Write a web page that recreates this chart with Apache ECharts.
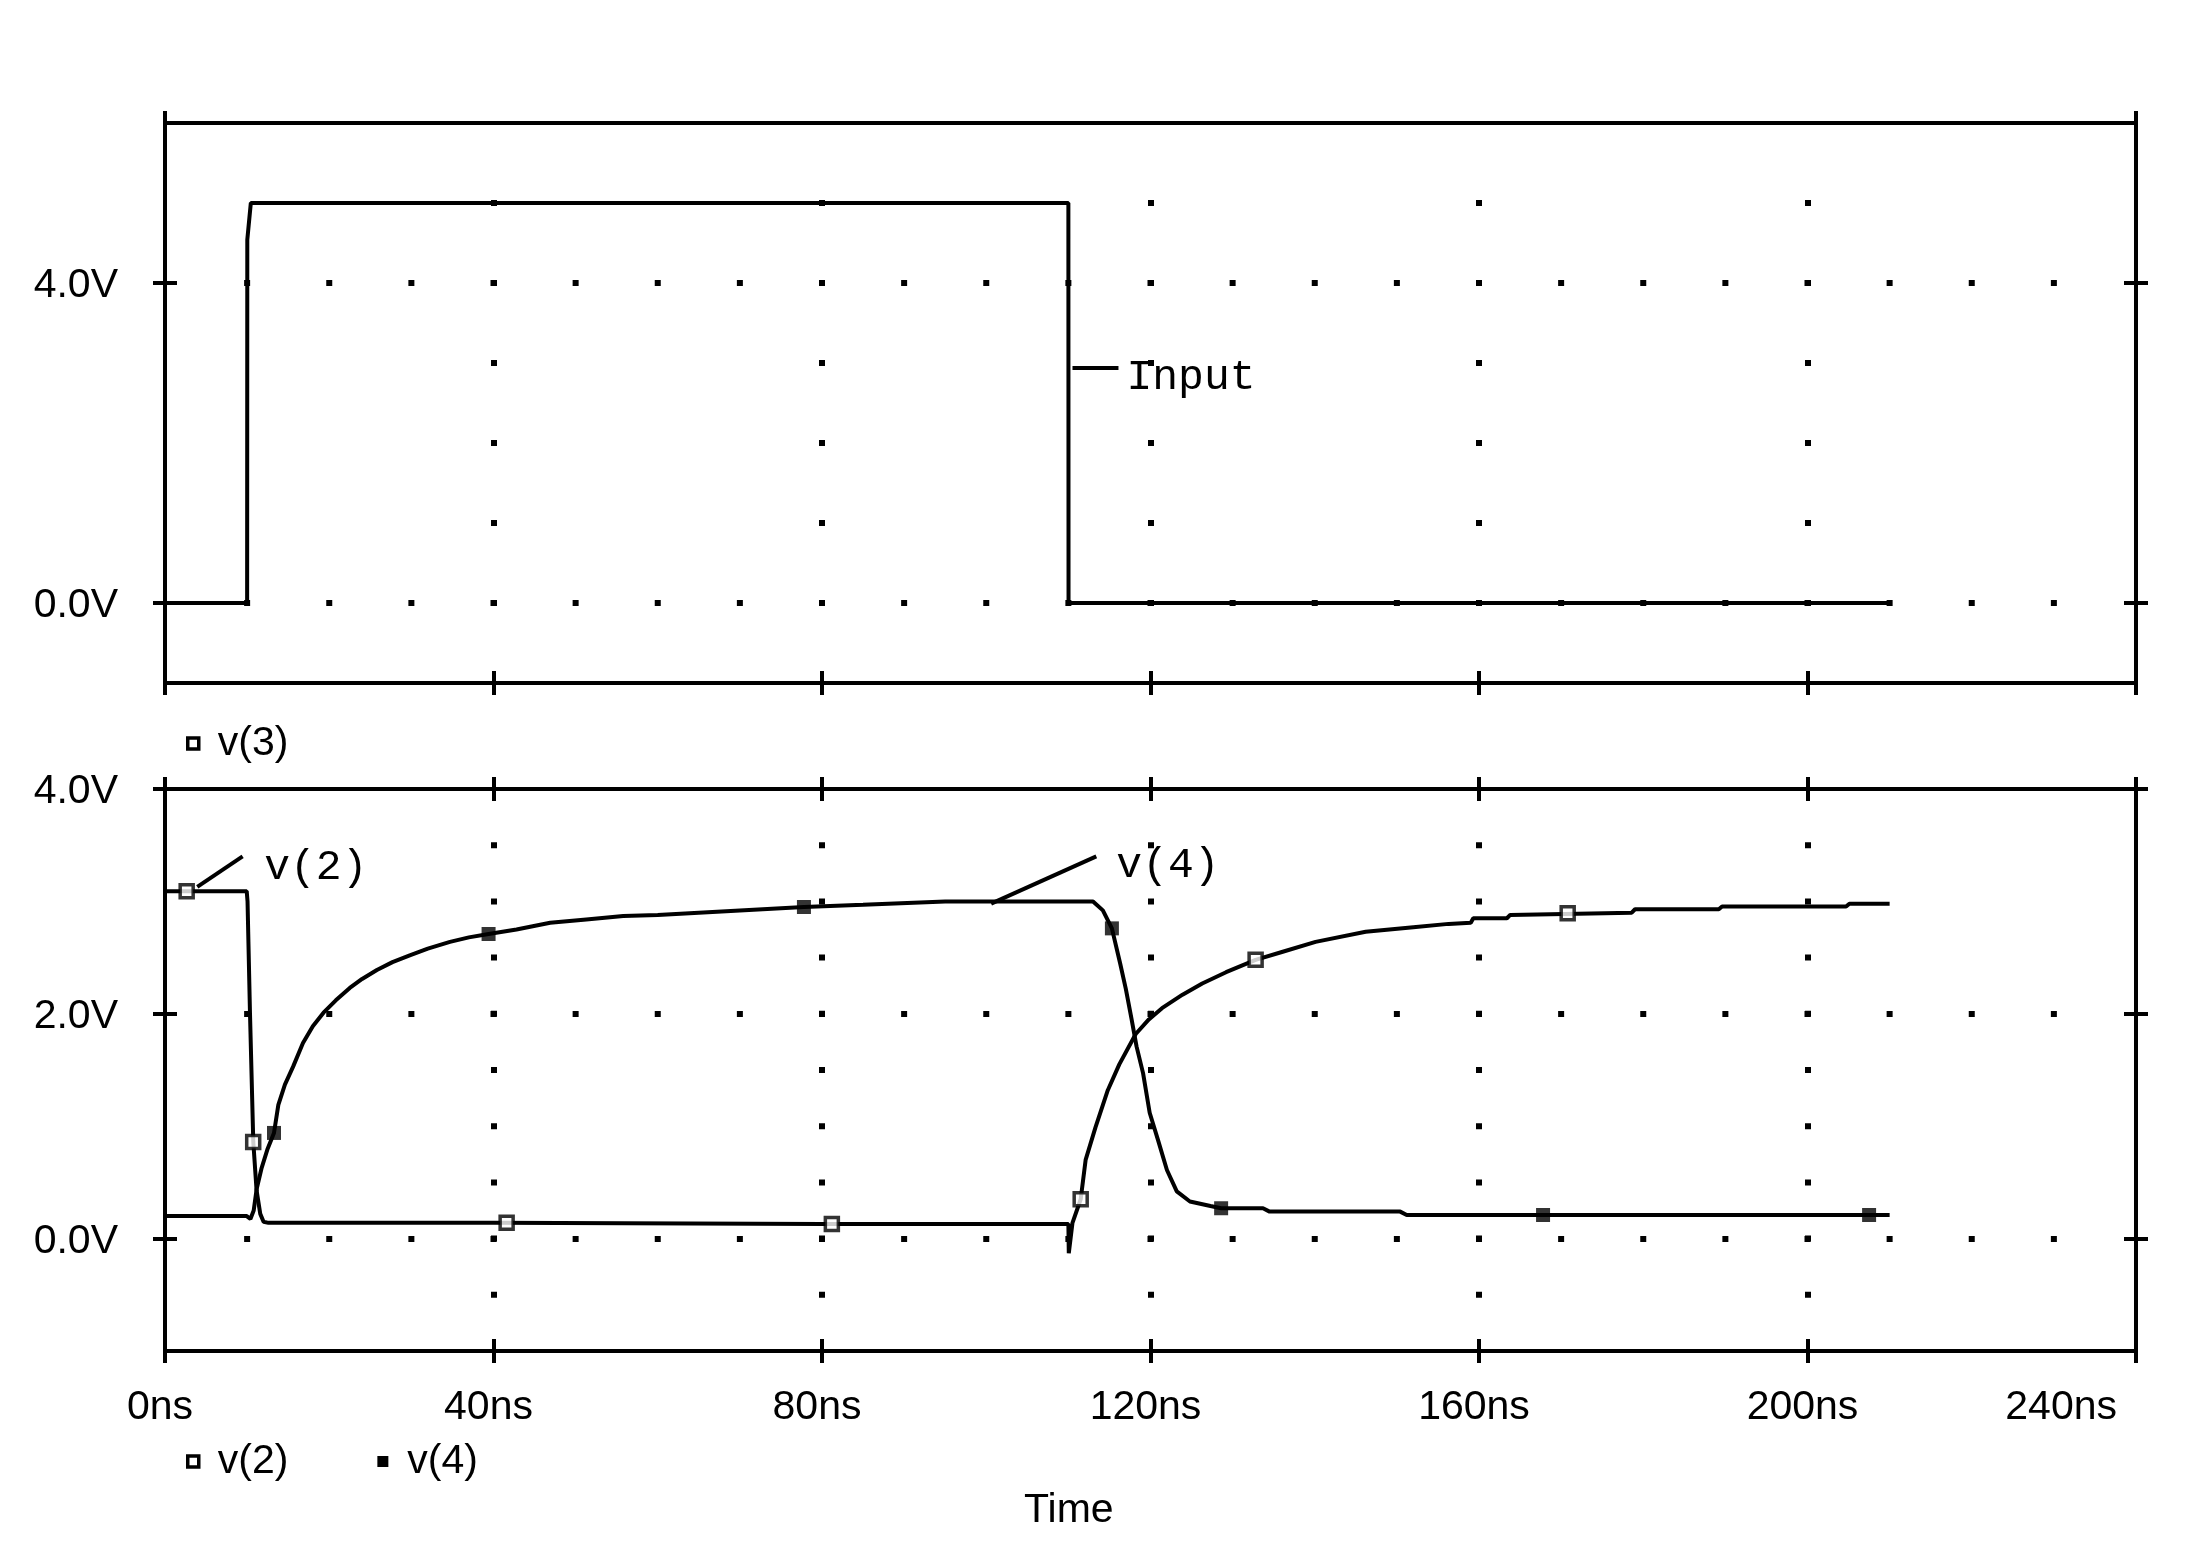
<!DOCTYPE html>
<html>
<head>
<meta charset="utf-8">
<script src="https://cdn.jsdelivr.net/npm/echarts@6/dist/echarts.min.js"></script>
<style>
html, body { margin: 0; padding: 0; background: #fff; }
#chart { width: 2186px; height: 1546px; }
</style>
</head>
<body>
<div id="chart"></div>
<script>
// ---- data (time in ns, voltage in V) ----
const inputTime = [0, 10, 10.02, 10.45, 110, 110.02, 210]
const inputVolt = [0, 0, 4.54, 5, 5, 0, 0]

const v2Time = [0, 9.95, 10.05, 10.35, 10.75, 11.15, 11.6, 12.0, 12.6, 40, 80, 110, 110.05, 110.5, 111.5, 112.1,
  113.3, 114.8, 116.2, 118.2, 119.8, 121.4, 123.9, 126.3, 129.2, 132.8, 136.0, 140.1, 146.2, 152, 156.3, 159.0,
  159.3, 163.4, 163.8, 178.6, 179.0, 189.2, 189.6, 204.7, 205.1, 210]
const v2Volt = [3.09, 3.09, 3.0, 2.0, 0.86, 0.43, 0.22, 0.15, 0.14, 0.14, 0.13, 0.13, -0.13, 0.14, 0.35, 0.70,
  0.99, 1.32, 1.55, 1.82, 1.95, 2.05, 2.17, 2.27, 2.37, 2.48, 2.55, 2.64, 2.73, 2.77, 2.80, 2.81,
  2.85, 2.85, 2.88, 2.90, 2.93, 2.93, 2.955, 2.955, 2.98, 2.98]

const v4Time = [0, 9.95, 10.4, 10.8, 11.16, 11.77, 12.5, 13.27, 13.8, 14.6, 15.6, 16.8, 18.0, 19.3, 20.8, 22.5,
  24.0, 25.8, 27.7, 29.8, 32.0, 34.7, 37.0, 39.4, 42.8, 46.9, 51.3, 55.8, 60, 65, 70, 77.8, 85, 95, 113.0,
  114.2, 115.3, 116.3, 117.0, 117.7, 118.3, 119.1, 119.9, 120.9, 122.0, 123.2, 124.8, 127.3, 128.6, 133.7,
  134.5, 150.4, 151.2, 210]
const v4Volt = [0.20, 0.20, 0.175, 0.25, 0.44, 0.63, 0.80, 0.94, 1.19, 1.37, 1.53, 1.74, 1.89, 2.01, 2.12, 2.23,
  2.31, 2.39, 2.46, 2.52, 2.58, 2.64, 2.68, 2.71, 2.75, 2.81, 2.84, 2.87, 2.88, 2.90, 2.92, 2.95, 2.97, 3.0, 3.0,
  2.92, 2.76, 2.45, 2.22, 1.95, 1.71, 1.47, 1.12, 0.88, 0.61, 0.42, 0.33, 0.29, 0.27, 0.27,
  0.24, 0.24, 0.21, 0.21]

// trace markers (every few samples, like the simulator draws them)
const v2MarkTime = [2.64, 10.74, 41.6, 81.2, 111.5, 132.8, 170.8]
const v2MarkVolt = [3.09, 0.86, 0.14, 0.13, 0.35, 2.48, 2.895]
const v4MarkTime = [13.27, 39.4, 77.8, 115.3, 128.6, 167.8, 207.5]
const v4MarkVolt = [0.94, 2.71, 2.95, 2.76, 0.27, 0.21, 0.21]

// axis ticks
const timeMin = 0, timeMax = 240, timeStep = 40
const inputTicks = [0, 4]
const outTicks = [0, 2, 4]
const outDotRows = [0, 2]

// text labels with their leader lines [from, to]
const inputLeader = [[110.5, 2.94], [116.1, 2.94]]
const v2Leader = [[3.93, 3.13], [9.45, 3.40]]
const v4Leader = [[100.6, 2.98], [113.4, 3.40]]

const zip = (xs, ys) => xs.map((x, i) => [x, ys[i]])

// ---- layout ----
const plotLeft = 165, plotWidth = 1971
const topA = 123, heightA = 560
const topB = 789, heightB = 562
const nsDot = plotWidth / 24      // a dot every 10ns
const dotA = heightA / 7          // every 1V in the top plot
const dotB = heightB / 10         // every 0.5V in the bottom plot

const ink = '#000'
const sans = 'Liberation Sans'
const lw = 4
const blackLine = { color: ink, width: lw }

// dotted grid: skip the dot that would sit on the frame at the start
const dotDash = (step, count) => {
  const d = [0, step - 3]
  for (let i = 0; i < count; i++) d.push(6, step - 6)
  d[d.length - 1] = 5000
  return d
}
const dots = (step, count) => ({ color: ink, width: 6, cap: 'butt', type: dotDash(step, count) })

const lineOn = { show: true, onZero: false, lineStyle: blackLine }
const lineOff = { show: false, onZero: false }
const tickOut = (values) => ({ show: true, length: 12, lineStyle: blackLine, customValues: values })
const tickIn = (values) => ({ show: true, inside: true, length: 12, lineStyle: blackLine, customValues: values })
const noLabel = { show: false }
const noSplit = { show: false }

const timeAxis = (grid, position, axisLine, axisTick, extra) => Object.assign({
  type: 'value', gridIndex: grid, position, min: timeMin, max: timeMax, interval: timeStep,
  axisLine, axisTick, axisLabel: noLabel, splitLine: noSplit
}, extra || {})

const voltAxis = (grid, position, min, max, axisLine, axisTick, extra) => Object.assign({
  type: 'value', gridIndex: grid, position, min, max, interval: 1,
  axisLine, axisTick, axisLabel: noLabel, splitLine: noSplit
}, extra || {})

const voltLabel = (values) => ({
  show: true, customValues: values, margin: 47,
  verticalAlign: 'top', lineHeight: 6,
  fontFamily: sans, fontSize: 41, color: ink,
  formatter: (v) => v.toFixed(1) + 'V'
})

// the empty first line pushes the text below the anchor by lineHeight / 2
const leaderLine = (from, to, text, distance, lineHeight) => ({
  silent: true,
  animation: false,
  symbol: ['none', 'none'],
  lineStyle: { color: ink, width: lw, type: 'solid' },
  label: {
    show: true, position: 'end', formatter: '\n' + text, distance, lineHeight,
    fontFamily: 'Liberation Mono', fontSize: 43, color: ink
  },
  emphasis: { disabled: true },
  data: [[{ coord: from }, { coord: to }]]
})

const chart = echarts.init(document.getElementById('chart'))

chart.setOption({
  animation: false,
  backgroundColor: '#fff',
  title: {
    text: 'Time', left: 1024, top: 1490, padding: 0,
    textStyle: { fontFamily: sans, fontSize: 41, fontWeight: 'normal', color: ink }
  },
  grid: [
    { left: plotLeft, top: topA, width: plotWidth, height: heightA, outerBoundsMode: 'none' },
    { left: plotLeft, top: topB, width: plotWidth, height: heightB, outerBoundsMode: 'none' }
  ],
  legend: [
    {
      left: 186, top: 723, padding: 0, itemWidth: 11, itemHeight: 11, selectedMode: false,
      textStyle: { fontFamily: sans, fontSize: 41, color: ink, padding: [0, 0, 0, 14] },
      data: [{ name: 'v(3)', icon: 'rect', itemStyle: { color: '#fff', borderColor: ink, borderWidth: 3.5 } }]
    },
    {
      left: 186, top: 1441, padding: 0, itemWidth: 11, itemHeight: 11, itemGap: 89, selectedMode: false,
      textStyle: { fontFamily: sans, fontSize: 41, color: ink, padding: [0, 0, 0, 14] },
      data: [
        { name: 'v(2)', icon: 'rect', itemStyle: { color: '#fff', borderColor: ink, borderWidth: 3.5 } },
        { name: 'v(4)', icon: 'rect', itemWidth: 12, itemHeight: 12, itemStyle: { color: ink, borderWidth: 0 } }
      ]
    }
  ],
  xAxis: [
    // top plot
    timeAxis(0, 'bottom', lineOn, tickOut(), {
      splitLine: { show: true, showMinLine: false, showMaxLine: false, lineStyle: dots(dotA, 6) }
    }),
    timeAxis(0, 'bottom', lineOff, tickIn()),
    timeAxis(0, 'top', lineOn, tickOut([timeMin, timeMax])),
    // bottom plot
    timeAxis(1, 'bottom', lineOn, tickOut(), {
      splitLine: { show: true, showMinLine: false, showMaxLine: false, lineStyle: dots(dotB, 9) },
      axisLabel: {
        show: true, margin: 36, padding: [0, 10, 0, 0], showMinLabel: true, showMaxLabel: true,
        alignMaxLabel: 'right',
        fontFamily: sans, fontSize: 41, color: ink,
        formatter: (v) => v === timeMax ? '{last|' + v + 'ns}' : v + 'ns',
        rich: { last: { fontFamily: sans, fontSize: 41, color: ink, padding: [0, 9, 0, 0] } }
      }
    }),
    timeAxis(1, 'bottom', lineOff, tickIn()),
    timeAxis(1, 'top', lineOn, tickOut()),
    timeAxis(1, 'top', lineOff, tickIn())
  ],
  yAxis: [
    // top plot
    voltAxis(0, 'left', -1, 6, lineOn, tickOut(inputTicks), { axisLabel: voltLabel(inputTicks) }),
    voltAxis(0, 'left', -1, 6, lineOff, tickIn(inputTicks), {
      splitLine: { show: true, lineStyle: dots(nsDot, 23) }
    }),
    voltAxis(0, 'right', -1, 6, lineOn, tickOut(inputTicks)),
    voltAxis(0, 'right', -1, 6, lineOff, tickIn(inputTicks)),
    // bottom plot
    voltAxis(1, 'left', -1, 4, lineOn, tickOut(outTicks), { axisLabel: voltLabel(outTicks) }),
    voltAxis(1, 'left', -1, 4, lineOff, tickIn(outDotRows), {
      splitLine: { show: true, lineStyle: dots(nsDot, 23) }
    }),
    voltAxis(1, 'right', -1, 4, lineOn, tickOut(outTicks)),
    voltAxis(1, 'right', -1, 4, lineOff, tickIn(outDotRows))
  ],
  series: [
    {
      name: 'Input', type: 'line', xAxisIndex: 0, yAxisIndex: 0,
      symbol: 'none', silent: true, z: 3,
      lineStyle: { color: ink, width: lw },
      data: zip(inputTime, inputVolt),
      markLine: leaderLine(inputLeader[0], inputLeader[1], 'Input', 8, 20)
    },
    {
      name: 'v(3)', type: 'line', xAxisIndex: 3, yAxisIndex: 4,
      symbol: 'none', itemStyle: { color: ink }, data: []
    },
    {
      name: 'v(2)', type: 'line', xAxisIndex: 3, yAxisIndex: 4,
      symbol: 'none', silent: true, z: 3,
      lineStyle: { color: ink, width: lw }, itemStyle: { color: ink },
      data: zip(v2Time, v2Volt),
      markLine: leaderLine(v2Leader[0], v2Leader[1], 'v(2)', 26, 51)
    },
    {
      name: 'v(4)', type: 'line', xAxisIndex: 3, yAxisIndex: 4,
      symbol: 'none', silent: true, z: 3,
      lineStyle: { color: ink, width: lw }, itemStyle: { color: ink },
      data: zip(v4Time, v4Volt),
      markLine: leaderLine(v4Leader[0], v4Leader[1], 'v(4)', 22, 36)
    },
    {
      name: 'v(2)', type: 'scatter', xAxisIndex: 3, yAxisIndex: 4,
      symbol: 'rect', symbolSize: 13, silent: true, z: 4,
      itemStyle: { color: '#fff', borderColor: ink, borderWidth: 3.5 },
      data: zip(v2MarkTime, v2MarkVolt)
    },
    {
      name: 'v(4)', type: 'scatter', xAxisIndex: 3, yAxisIndex: 4,
      symbol: 'rect', symbolSize: 14, silent: true, z: 4,
      itemStyle: { color: ink },
      data: zip(v4MarkTime, v4MarkVolt)
    }
  ]
})
</script>
</body>
</html>
